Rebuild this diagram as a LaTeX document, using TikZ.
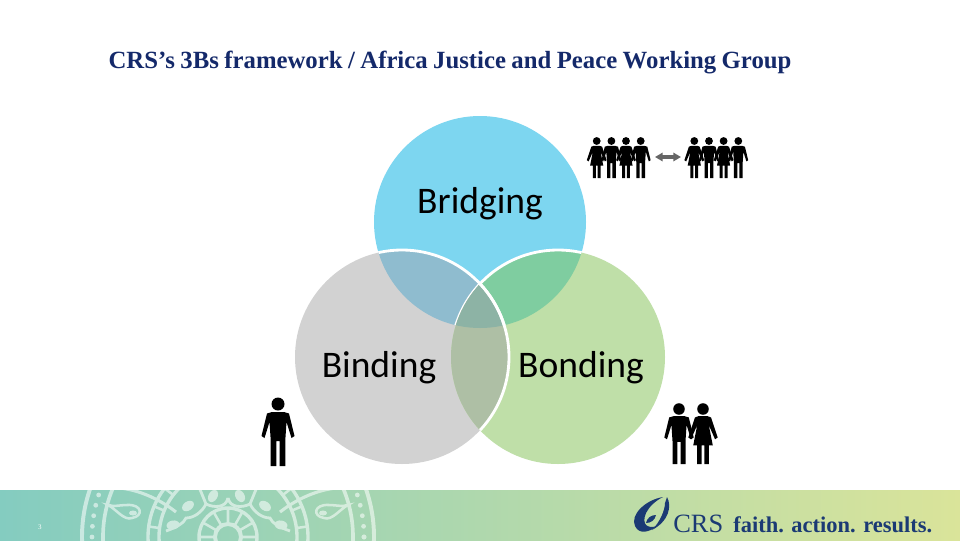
\documentclass[tikz,border=0pt]{standalone}
\usepackage{fontspec}
\setmainfont{Liberation Serif}
\newfontfamily\labelfont{Carlito}
\usetikzlibrary{arrows.meta}
\definecolor{bridgeblue}{HTML}{7DD6F0}
\definecolor{bindgray}{HTML}{D2D2D2}
\definecolor{bondgreen}{HTML}{BFDFA8}
\definecolor{blueandgray}{HTML}{8FBCCF}
\definecolor{blueandgreen}{HTML}{7FCDA0}
\definecolor{grayandgreen}{HTML}{AEBFA5}
\definecolor{allthree}{HTML}{8DB3A5}
\definecolor{crsblue}{HTML}{1B3A74}
\definecolor{titlenavy}{HTML}{14296A}
\definecolor{bandleft}{HTML}{84CCC0}
\definecolor{bandmid}{HTML}{B0D8A8}
\definecolor{bandright}{HTML}{DAE49A}
\tikzset{
	circlelabel/.style={font=\labelfont\fontsize{26.7}{26.7}\selectfont, text=black},
	rim/.style={white, line width=2pt},
	pics/man/.style={code={
		\fill (0,0) circle[radius=6.5];
		\fill (-6,8) -- (-11,9.5) -- (-16.5,32) -- (-13.5,34) -- (-8.5,18) -- (-7.3,36) -- (-7.3,62) -- (-1.7,62) -- (-1.7,37) -- (1.7,37) -- (1.7,62) -- (7.3,62) -- (7.3,36) -- (8.5,18) -- (13.5,34) -- (16.5,32) -- (11,9.5) -- (6,8) -- cycle;
	}},
	pics/woman/.style={code={
		\fill (0,0) circle[radius=6.5];
		\fill (-5,8) -- (-9,9.5) -- (-16.5,32) -- (-13.5,34) -- (-6.5,18) -- (-11,41) -- (-6.5,41) -- (-6.5,62) -- (-1.5,62) -- (-1.5,41) -- (1.5,41) -- (1.5,62) -- (6.5,62) -- (6.5,41) -- (11,41) -- (6.5,18) -- (13.5,34) -- (16.5,32) -- (9,9.5) -- (5,8) -- cycle;
	}},
}
\begin{document}
\begin{tikzpicture}[x=0.025cm, y=-0.025cm]
	\useasboundingbox (0,0) rectangle (960,540);
	\fill [white] (0,0) rectangle (960,540);

	% footer band
	\shade [left color=bandleft, middle color=bandmid, right color=bandright] (0,490) rectangle (960,540);

	% mandala
	\begin{scope}
		\clip (0,490) rectangle (960,540);
		\begin{scope}[transparency group, opacity=0.55]
		\begin{scope}[white]
			\draw [line width=2.8pt] (228,537) circle[radius=146];
			\draw [line width=2.6pt] (228,537) circle[radius=125];
			\draw [line width=2.4pt] (228,537) circle[radius=80];
			\draw [line width=2.4pt] (228,537) circle[radius=69];
			\draw [line width=2.4pt] (228,537) circle[radius=29];
			\draw [line width=2.8pt] (228,537) circle[radius=13];
			\foreach \a in {0,4.5,...,360}
				\fill (228,537) ++(\a:136) circle[radius=2.4];
			\foreach \a in {7.5,22.5,...,360}
				\draw [line width=1.8pt] (228,537) ++(\a:69) -- ++(\a:11);
			\foreach \a in {0,30,...,330}
				\draw [line width=1.8pt] (228,537) ++(\a:13) -- ++(\a:16);
			% drops
			\foreach \x/\y/\r in {213/496/60, 240/496/120, 188/506/35, 265/506/145, 173/525/10, 281/525/170}
				\fill (\x,\y) circle[x radius=6.5, y radius=4.5, rotate=\r];
			% arches between the drops
			\foreach \s in {1,-1} {
				\begin{scope}[shift={(228,0)}, xscale=\s]
					\draw [line width=2pt] (0,498) .. controls (2,508) and (14,508) .. (22,504) .. controls (26,512) and (34,518) .. (42,518) .. controls (44,522) and (48,526) .. (62,531);
					\draw [line width=2pt] (22,504) -- (29,487);
					\draw [line width=2.2pt] (108,488) .. controls (90,490) and (70,498) .. (52,512);
					% paisley
					\draw [line width=1.8pt] (120,505) .. controls (112,509) and (104,521) .. (96,518) .. controls (84,516) and (86,504) .. (101,505) .. controls (108,505) and (114,507) .. (120,505) -- cycle;
					\fill (95,513) circle[x radius=4, y radius=2.5];
				\end{scope}
			}
		\end{scope}
		\end{scope}
	\end{scope}
	\node (pagenum) at (40,527) [text=white, font=\fontsize{5}{5}\selectfont] {3};

	% the three circles
	\fill [bridgeblue] (480,222) circle[radius=106];
	\fill [bindgray] (402,357) circle[radius=107];
	\fill [bondgreen] (558,357) circle[radius=107];
	\begin{scope}
		\clip (480,222) circle[radius=106];
		\fill [blueandgray] (402,357) circle[radius=107];
		\fill [blueandgreen] (558,357) circle[radius=107];
		\draw [rim] (558,357) circle[radius=107];
	\end{scope}
	\begin{scope}
		\clip (402,357) circle[radius=107];
		\fill [grayandgreen] (558,357) circle[radius=107];
		\clip (480,222) circle[radius=106];
		\fill [allthree] (558,357) circle[radius=107];
	\end{scope}
	% the gray rim lies on top of the other two
	\begin{scope}
		\clip (480,222) circle[radius=106];
		\draw [rim] (402,357) circle[radius=107];
	\end{scope}
	\begin{scope}
		\clip (558,357) circle[radius=107];
		\draw [rim] (402,357) circle[radius=107];
	\end{scope}
	\node (bridging) at (480,204) [circlelabel] {Bridging};
	\node (binding) at (379,368) [circlelabel] {Binding};
	\node (bonding) at (581,368) [circlelabel] {Bonding};

	% title
	\node (title) at (450,63) [font=\bfseries\fontsize{17.6}{17.6}\selectfont, text=titlenavy] {\spaceskip=0.22em CRS’s 3Bs framework / Africa Justice and Peace Working Group};

	% people
	\pic at (278,404) {man};
	\pic [scale=0.89] at (679,409) {man};
	\pic [scale=0.89] at (703,409) {woman};
	\foreach \x in {596.7, 626} {
		\pic [scale=0.6] at (\x,141) {woman};
		\pic [scale=0.6] at (\x+14.7,141) {man};
		\pic [scale=0.6] at (\x+97.6,141) {woman};
		\pic [scale=0.6] at (\x+112.3,141) {man};
	}
	\coordinate (leftgroup) at (655,157);
	\coordinate (rightgroup) at (681,157);
	\draw [{Triangle[length=5.5pt, width=6pt]}-{Triangle[length=5.5pt, width=6pt]}, draw=black!60, line width=2.3pt] (leftgroup) -- (rightgroup);

	% logo
	\fill [crsblue] (663,497) .. controls (645,500) and (630,515) .. (635,526) .. controls (639,535) and (650,532) .. (657,526) .. controls (648,529) and (641,525) .. (646,513) .. controls (649,507) and (655,501) .. (663,497) -- cycle;
	\fill [crsblue] (667,497) .. controls (672,506) and (669,521) .. (652,530) .. controls (660,522) and (665,510) .. (665,503) -- cycle;
	\fill [crsblue] (646,523) .. controls (647,518) and (651,515) .. (656,515) .. controls (655,520) and (651,523) .. (646,523) -- cycle;
	\node (crs) at (673,532) [anchor=base west, inner sep=0pt, text=crsblue, font=\fontsize{18.8}{18.8}\selectfont] {CRS};
	\node (tagline) at (733,532) [anchor=base west, inner sep=0pt, text=crsblue, font=\bfseries\fontsize{16}{16}\selectfont] {faith. action. results.};
\end{tikzpicture}
\end{document}
